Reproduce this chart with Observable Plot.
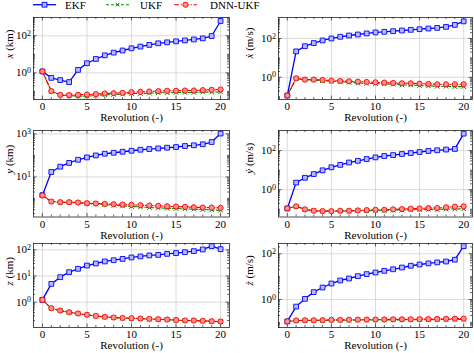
<!DOCTYPE html>
<html><head><meta charset="utf-8">
<script src="https://cdn.jsdelivr.net/npm/d3@7"></script>
<script src="https://cdn.jsdelivr.net/npm/@observablehq/plot@0.6"></script>
<style>
body{margin:0;background:#fff;}
#fig{position:relative;width:474px;height:353px;overflow:hidden;background:#fff;}
#fig > svg{position:absolute;}
#fig svg, #fig svg text{font-family:"Liberation Serif","Times New Roman","DejaVu Serif",serif !important;font-weight:normal;}
</style></head><body><div id="fig"></div>
<script>
// ---- data ----
const rev = [0,1,2,3,4,5,6,7,8,9,10,11,12,13,14,15,16,17,18,19,20];
const xTicks = [0,5,10,15,20];
const seriesNames = ["EKF","UKF","DNN-UKF"];

const posX_EKF = [1.2,0.54,0.41,0.32,1.45,3.3,5.6,8.8,12.3,16,21,26,32,39,44,50,56,63,72,96,620];
const posX_UKF = [1.2,0.104,0.064,0.059,0.056,0.056,0.061,0.066,0.069,0.072,0.078,0.078,0.081,0.085,0.085,0.088,0.088,0.088,0.092,0.092,0.096];
const posX_DNN = [1.2,0.104,0.066,0.064,0.066,0.069,0.072,0.078,0.081,0.085,0.092,0.096,0.1,0.104,0.109,0.109,0.113,0.113,0.118,0.123,0.128];

const velX_EKF = [0.115,21.6,40,58,79,100,122,142,160,181,204,220,237,257,278,300,325,350,395,500,760];
const velX_UKF = [0.115,0.855,0.73,0.73,0.675,0.624,0.6,0.554,0.512,0.492,0.473,0.455,0.438,0.405,0.405,0.374,0.36,0.345,0.345,0.332,0.332];
const velX_DNN = [0.115,0.89,0.76,0.76,0.73,0.675,0.649,0.624,0.6,0.577,0.554,0.533,0.512,0.492,0.492,0.473,0.455,0.438,0.438,0.438,0.438];

const posY_EKF = [1.43,17,30,45,63,81,100,120,133,148,165,184,198,212,228,245,274,295,330,420,1040];
const posY_UKF = [1.38,0.723,0.673,0.649,0.626,0.583,0.562,0.523,0.487,0.453,0.422,0.407,0.379,0.365,0.352,0.34,0.328,0.316,0.305,0.295,0.284];
const posY_DNN = [1.38,0.723,0.673,0.673,0.649,0.604,0.583,0.562,0.542,0.523,0.505,0.487,0.47,0.453,0.437,0.422,0.407,0.393,0.379,0.379,0.365];

const velY_EKF = [0.11,2.3,4.06,6.3,9.8,14,18.6,24.6,30,37,45,53,59,67,75,85,96,104,113,122,740];
const velY_UKF = [0.11,0.141,0.098,0.0835,0.08,0.08,0.08,0.08,0.0835,0.0835,0.087,0.087,0.0905,0.0905,0.094,0.094,0.098,0.098,0.102,0.102,0.106];
const velY_DNN = [0.11,0.141,0.098,0.0835,0.08,0.08,0.0835,0.0835,0.087,0.0905,0.094,0.094,0.098,0.102,0.106,0.11,0.115,0.115,0.125,0.135,0.141];

const posZ_EKF = [1.23,5.0,9.0,14,18.8,25,30,36,40,45,51,56,61,64,70,75,81,89,103,138,106];
const posZ_UKF = [1.23,0.58,0.47,0.41,0.365,0.325,0.295,0.27,0.255,0.245,0.24,0.233,0.226,0.22,0.214,0.207,0.197,0.197,0.19,0.185,0.18];
const posZ_DNN = [1.23,0.59,0.48,0.415,0.37,0.33,0.30,0.275,0.26,0.25,0.245,0.238,0.23,0.224,0.218,0.21,0.2,0.2,0.194,0.188,0.183];

const velZ_EKF = [0.11,0.49,1.07,2.1,3.35,5.0,6.8,8.3,10.5,12.9,15.2,18,21,25,30,34,38,42,46,55,215];
const velZ_UKF = [0.11,0.118,0.121,0.122,0.122,0.124,0.124,0.125,0.126,0.126,0.127,0.128,0.128,0.129,0.13,0.13,0.131,0.132,0.133,0.134,0.135];
const velZ_DNN = [0.11,0.12,0.124,0.124,0.125,0.129,0.129,0.13,0.131,0.132,0.133,0.134,0.135,0.136,0.137,0.138,0.14,0.141,0.143,0.145,0.147];

const panelVars  = ["x","ẋ","y","ẏ","z","ż"];
const panelUnits = ["(km)","(m/s)","(km)","(m/s)","(km)","(m/s)"];
const panelTicks = [[1,100],[1,100],[10,1000],[1,100],[1,10,100],[1,100]];
const panelDomains = [[0.037,955],[0.072,1200],[0.138,1440],[0.04,1070],[0.108,174],[0.0596,282]];
const panelSeries = [
  [posX_EKF,posX_UKF,posX_DNN],[velX_EKF,velX_UKF,velX_DNN],
  [posY_EKF,posY_UKF,posY_DNN],[velY_EKF,velY_UKF,velY_DNN],
  [posZ_EKF,posZ_UKF,posZ_DNN],[velZ_EKF,velZ_UKF,velZ_DNN]
];

// ---- layout & style ----
const FONT = '"Liberation Serif", "Times New Roman", "DejaVu Serif", serif';
const rowsG = [{top:17,bottom:99},{top:129.5,bottom:216},{top:243,bottom:327}];
const colsG = [{left:33,right:229,ylab:-24.5},{left:278,right:472,ylab:-29}];
const ML=45, MR=4, MT=17, MB=30;
const BLUE="#0000ff", GREEN="#008a00", RED="#ff0000";
const fig = document.getElementById("fig");

function logTicks(dom){
  const out=[];
  for(let e=Math.floor(Math.log10(dom[0])); e<=Math.ceil(Math.log10(dom[1])); e++)
    for(let m=1;m<=9;m++){const v=m*Math.pow(10,e); if(v>dom[0]&&v<dom[1]) out.push(v);}
  return out;
}

panelVars.forEach((v,k)=>{
  const g = rowsG[Math.floor(k/2)], c = colsG[k%2];
  const W = c.right-c.left, H = g.bottom-g.top;
  const dom = panelDomains[k], yT = panelTicks[k];
  const [ekf,ukf,dnn] = panelSeries[k].map(arr=>rev.map((r,i)=>({r, v:arr[i]})));
  const yMinor = logTicks(dom).filter(t=>!yT.some(u=>Math.abs(u-t)/u<1e-9));
  const xMinor = rev.filter(r=>r%5!==0);
  const label = v+" "+panelUnits[k];
  const tk = {stroke:"#222", strokeWidth:0.7};
  const chart = Plot.plot({
    width: ML+W+MR, height: MT+H+MB,
    marginLeft: ML, marginRight: MR, marginTop: MT, marginBottom: MB,
    x: {domain:[-1,21]},
    y: {type:"log", domain: dom},
    style: {fontFamily:FONT, fontSize:"11px", color:"black", background:"transparent", overflow:"visible"},
    marks: [
      Plot.ruleX(xTicks, {x:d=>d, stroke:"#d2d2d2", strokeWidth:0.8}),
      Plot.ruleY(yT, {y:d=>d, stroke:"#d2d2d2", strokeWidth:0.8}),
      Plot.tickX(xTicks, {x:d=>d, insetTop:H-3.5, ...tk}),
      Plot.tickX(xTicks, {x:d=>d, insetBottom:H-3.5, ...tk}),
      Plot.tickX(xMinor, {x:d=>d, insetTop:H-2, ...tk}),
      Plot.tickX(xMinor, {x:d=>d, insetBottom:H-2, ...tk}),
      Plot.tickY(yT, {y:d=>d, insetRight:W-3.5, ...tk}),
      Plot.tickY(yT, {y:d=>d, insetLeft:W-3.5, ...tk}),
      Plot.tickY(yMinor, {y:d=>d, insetRight:W-2, ...tk}),
      Plot.tickY(yMinor, {y:d=>d, insetLeft:W-2, ...tk}),
      Plot.frame({stroke:"#222", strokeWidth:0.8}),
      Plot.line(ekf, {x:"r", y:"v", stroke:BLUE, strokeWidth:1.3}),
      Plot.dot(ekf, {x:"r", y:"v", symbol:"square", r:2.7, stroke:BLUE, fill:"#b4bcff", strokeWidth:0.9}),
      Plot.line(ukf, {x:"r", y:"v", stroke:GREEN, strokeWidth:1.1, strokeDasharray:"3.5,2"}),
      Plot.dot(ukf, {x:"r", y:"v", symbol:"times", r:2.2, stroke:GREEN, strokeWidth:1}),
      Plot.line(dnn, {x:"r", y:"v", stroke:RED, strokeWidth:1.1, strokeDasharray:"5,1.8,1.2,1.8"}),
      Plot.dot(dnn, {x:"r", y:"v", symbol:"circle", r:2.6, stroke:RED, fill:"#ff9090", strokeWidth:0.9}),
      Plot.axisX({ticks:xTicks, tickSize:0, tickPadding:3, label:null, fontSize:11}),
      Plot.axisY({ticks:yT, tickSize:0, tickPadding:2.5, label:null, fontSize:11,
                  tickFormat:d=>"10^"+Math.round(Math.log10(d))}),
      Plot.text([label], {text:d=>d, frameAnchor:"left", dx:c.ylab, rotate:-90, fontSize:11}),
      Plot.text(["Revolution (-)"], {text:d=>d, frameAnchor:"bottom", dy:21.5, fontSize:11})
    ]
  });
  chart.style.left = (c.left-ML)+"px";
  chart.style.top = (g.top-MT)+"px";
  chart.querySelectorAll('g[aria-label="y-axis tick label"] text').forEach(t=>{
    const e = t.textContent.split("^")[1];
    if(e!==undefined) t.innerHTML = `10<tspan dy="-0.42em" font-size="8">${e}</tspan>`;
  });
  chart.querySelectorAll('text').forEach(t=>{
    if(t.textContent===label) t.innerHTML = `<tspan font-style="italic">${v}</tspan> ${panelUnits[k]}`;
  });
  fig.appendChild(chart);
});

// ---- legend ----
const NS="http://www.w3.org/2000/svg";
const lg=document.createElementNS(NS,"svg");
lg.setAttribute("width",474); lg.setAttribute("height",14);
lg.style.left="0px"; lg.style.top="0px";
const legItems=[
  {x0:33, tx:65, color:BLUE, dash:null, sym:"sq"},
  {x0:106, tx:140, color:GREEN, dash:"3,2", sym:"x"},
  {x0:174, tx:210, color:RED, dash:"5,1.8,1.2,1.8", sym:"o"}
];
let html="";
legItems.forEach((it,i)=>{
  const cx=it.x0+11.5, cy=4.7;
  html+=`<line x1="${it.x0}" x2="${it.x0+23}" y1="${cy}" y2="${cy}" stroke="${it.color}" stroke-width="${i?1.1:1.3}" ${it.dash?`stroke-dasharray="${it.dash}"`:""}/>`;
  if(it.sym==="sq") html+=`<rect x="${cx-2.4}" y="${cy-2.4}" width="4.8" height="4.8" fill="#b4bcff" stroke="${BLUE}" stroke-width="0.9"/>`;
  if(it.sym==="x") html+=`<path d="M${cx-1.8},${cy-1.8}L${cx+1.8},${cy+1.8}M${cx-1.8},${cy+1.8}L${cx+1.8},${cy-1.8}" stroke="${GREEN}" stroke-width="1"/>`;
  if(it.sym==="o") html+=`<circle cx="${cx}" cy="${cy}" r="2.6" fill="#ff9090" stroke="${RED}" stroke-width="0.9"/>`;
  html+=`<text x="${it.tx}" y="8.5" font-size="11">${seriesNames[i]}</text>`;
});
lg.innerHTML=html;
fig.appendChild(lg);
</script></body></html>
